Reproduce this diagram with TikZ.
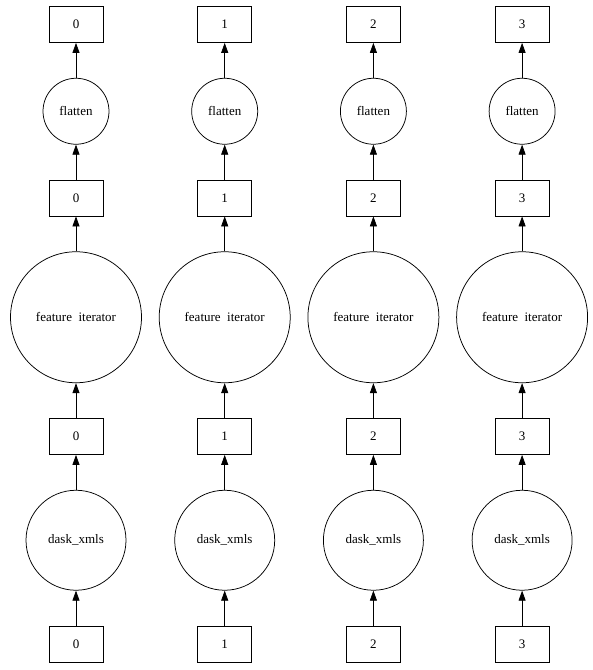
\documentclass[tikz,border=0pt]{standalone}
\usepackage{fontspec}
\newfontfamily\dotfont{Liberation Serif}
\usetikzlibrary{arrows.meta, positioning}

\begin{document}
\begin{tikzpicture}[x=1pt, y=1pt, line width=0.75pt, node distance=35pt,
  >={Triangle[length=10pt, width=7pt]},
  every node/.style={font=\dotfont\fontsize{13}{15}\selectfont},
  task/.style={draw, circle, inner sep=0pt},
  key/.style={draw, rectangle, minimum width=54pt, minimum height=36pt}]

  \useasboundingbox (0,0) rectangle (593,-670);

  \foreach \i in {0,...,3} {
    % Nodes in a vertical line
    \node[key] (in\i) at (76+148.7*\i, -644) {\i};
    \node[task, minimum size=100pt, above=of in\i] (dask\i) {dask\_xmls};
    \node[key, above=of dask\i] (xml\i) {\i};
    \node[task, minimum size=131pt, above=of xml\i] (feat\i) {feature\hspace{0.5em}iterator};
    \node[key, above=of feat\i] (it\i) {\i};
    \node[task, minimum size=66pt, above=of it\i] (flat\i) {flatten};
    \node[key, above=of flat\i] (out\i) {\i};

    % arrows from bottom to top
    \path[->] (in\i) edge (dask\i);
    \path[->] (dask\i) edge (xml\i);
    \path[->] (xml\i) edge (feat\i);
    \path[->] (feat\i) edge (it\i);
    \path[->] (it\i) edge (flat\i);
    \path[->] (flat\i) edge (out\i);
  }

\end{tikzpicture}
\end{document}
